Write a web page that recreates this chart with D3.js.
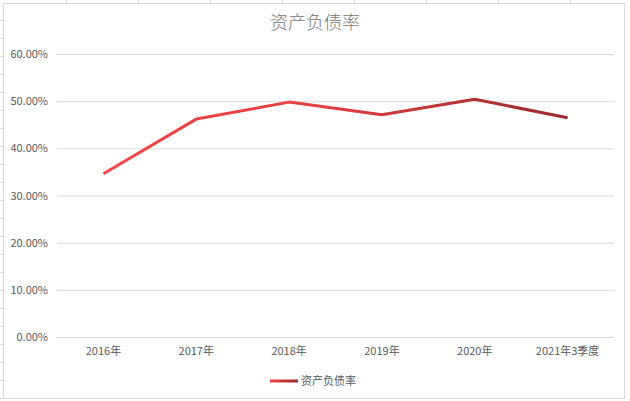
<!DOCTYPE html>
<html>
<head>
<meta charset="utf-8">
<script src="https://cdn.jsdelivr.net/npm/d3@7"></script>
<style>
  body { margin: 0; background: #fff; }
  text { font-family: "Noto Sans CJK SC", "Noto Sans", sans-serif; }
</style>
</head>
<body>
<div class="svg_container"></div>
<script>
// data
var categories = ['2016年', '2017年', '2018年', '2019年', '2020年', '2021年3季度'];
var debtRatio = [0.346, 0.462, 0.498, 0.471, 0.504, 0.465];
var yTicks = [0, 0.1, 0.2, 0.3, 0.4, 0.5, 0.6];
var seriesName = '资产负债率';
var chartTitle = '资产负债率';

const WIDTH = 630;
const HEIGHT = 401;
const PLOT = { left: 57, right: 614, top: 54, bottom: 337 };

var translate = function (x, y) {
  return "translate(" + x + "," + y + ")";
};

var svg = d3.select('.svg_container').append('svg')
  .attr('width', WIDTH)
  .attr('height', HEIGHT);

// spreadsheet cells behind the chart
var sheet = svg.append('g').attr('stroke', '#d4d8e0').attr('stroke-width', 1);
d3.range(66, WIDTH, 72).forEach(function (x) {
  sheet.append('line').attr('x1', x + 0.5).attr('x2', x + 0.5).attr('y1', 0).attr('y2', 4);
});
d3.range(20, HEIGHT, 18).forEach(function (y) {
  sheet.append('line').attr('x1', 0).attr('x2', 4).attr('y1', y + 0.5).attr('y2', y + 0.5);
});

// chart box
svg.append('rect')
  .attr('x', 3.5).attr('y', 3.5)
  .attr('width', 621).attr('height', 395)
  .attr('fill', '#fff')
  .attr('stroke', '#d9d9d9');

var _xScale = d3.scaleBand()
  .domain(categories)
  .range([PLOT.left, PLOT.right]);

var _yScale = d3.scaleLinear()
  .domain([0, 0.6])
  .range([PLOT.bottom, PLOT.top]);

var xCenter = function (d) { return _xScale(d) + _xScale.bandwidth() / 2; };

// gradient for the line
var defs = svg.append('defs');
var grad = defs.append('linearGradient')
  .attr('id', 'lineGrad')
  .attr('gradientUnits', 'userSpaceOnUse')
  .attr('x1', xCenter(categories[0])).attr('x2', xCenter(categories[categories.length - 1]))
  .attr('y1', 0).attr('y2', 0);
grad.append('stop').attr('offset', '0%').attr('stop-color', '#f44646');
grad.append('stop').attr('offset', '45%').attr('stop-color', '#e63f3f');
grad.append('stop').attr('offset', '100%').attr('stop-color', '#9b2a2a');

var legGrad = defs.append('linearGradient').attr('id', 'legGrad');
legGrad.append('stop').attr('offset', '0%').attr('stop-color', '#f04444');
legGrad.append('stop').attr('offset', '100%').attr('stop-color', '#9b2a2a');

// title
svg.append('text')
  .attr('x', 315).attr('y', 29)
  .attr('text-anchor', 'middle')
  .attr('font-size', 18)
  .attr('font-weight', 300)
  .attr('fill', '#757575')
  .text(chartTitle);

// y axis with gridlines
var yAxis = d3.axisLeft(_yScale)
  .tickValues(yTicks)
  .tickSize(-(PLOT.right - PLOT.left))
  .tickPadding(9)
  .tickFormat(d3.format('.2%'));

svg.append('g')
  .attr('transform', translate(PLOT.left, 0))
  .call(yAxis)
  .call(function (g) {
    g.select('.domain').remove();
    g.selectAll('.tick line').attr('stroke', '#d9d9d9');
    g.selectAll('.tick text').attr('fill', '#595959').attr('font-size', 11);
  });

// x axis labels
var xAxis = d3.axisBottom(_xScale).tickSize(0).tickPadding(10);
svg.append('g')
  .attr('transform', translate(0, PLOT.bottom))
  .call(xAxis)
  .call(function (g) {
    g.select('.domain').remove();
    g.selectAll('.tick text').attr('fill', '#595959').attr('font-size', 11);
  });

// line
var line = d3.line()
  .x(function (d, i) { return xCenter(categories[i]); })
  .y(function (d) { return _yScale(d); });

svg.append('path')
  .attr('d', line(debtRatio))
  .attr('fill', 'none')
  .attr('stroke', 'url(#lineGrad)')
  .attr('stroke-width', 3)
  .attr('stroke-linejoin', 'round');

// legend
var legend = svg.append('g').attr('transform', translate(270, 381));
legend.append('rect')
  .attr('x', 0).attr('y', -1.5)
  .attr('width', 28).attr('height', 3)
  .attr('fill', 'url(#legGrad)');
legend.append('text')
  .attr('x', 31).attr('y', 4)
  .attr('font-size', 11)
  .attr('fill', '#595959')
  .text(seriesName);
</script>
</body>
</html>
